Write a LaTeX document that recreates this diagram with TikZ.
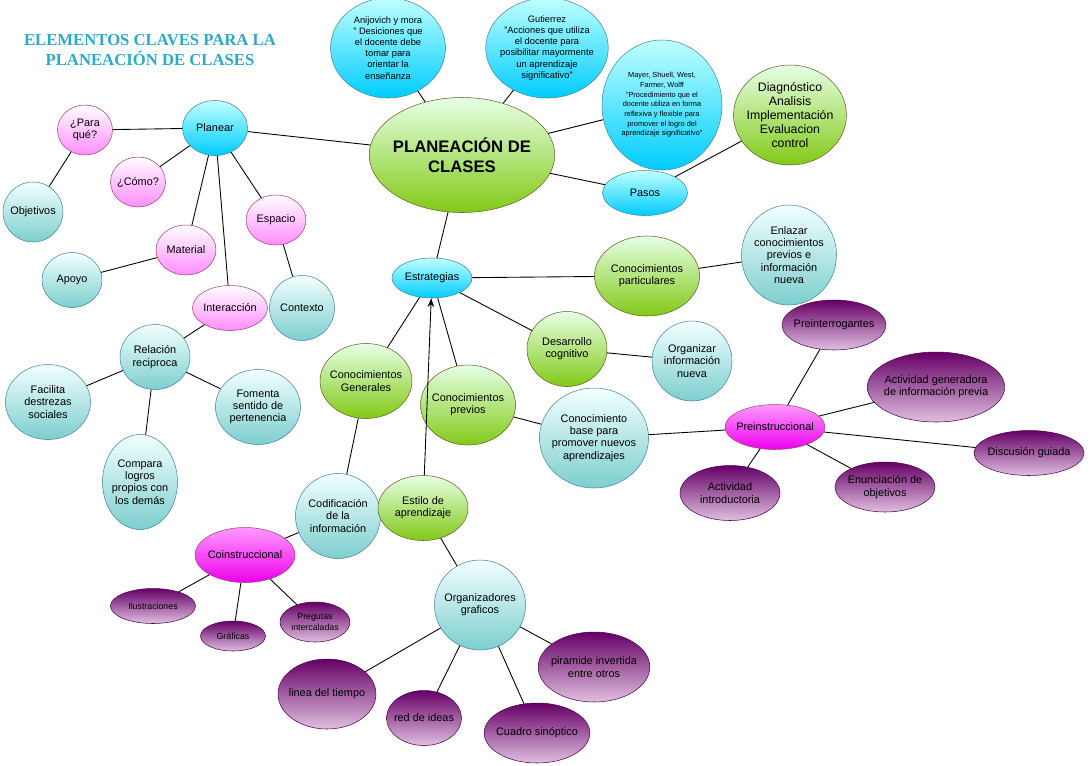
\documentclass[tikz,border=0pt]{standalone}
\usepackage{fontspec}
\setmainfont{Liberation Sans}
\usetikzlibrary{arrows.meta,shapes.geometric}

\definecolor{titleblue}{RGB}{40,170,200}
\tikzset{
  bubble/.style={ellipse,draw=#1!60!black,line width=0.3pt,align=center,inner sep=-2pt,
    font=\fontsize{6.2}{7}\selectfont},
  blue/.style={bubble=cyan,top color=cyan!25,bottom color=cyan!80!blue},
  green/.style={bubble=olive,top color=green!10!white,bottom color=olive!60!green!70},
  teal/.style={bubble=cyan,top color=cyan!5,bottom color=cyan!45!gray!70},
  pink/.style={bubble=magenta,top color=white,bottom color=magenta!45},
  mag/.style={bubble=magenta,top color=magenta!40,bottom color=magenta!85!violet},
  purple/.style={bubble=violet,top color=violet!80!black,bottom color=violet!25},
  link/.style={line width=0.5pt}
}

\begin{document}
\begin{tikzpicture}[x=0.02cm,y=-0.02cm]
    \useasboundingbox (0,0) rectangle (1091,765);
    \node[text=titleblue,font=\fontspec{Liberation Serif}\bfseries\fontsize{9.5}{11}\selectfont,align=center] (title) at (150,50) {ELEMENTOS CLAVES PARA LA\\PLANEACIÓN DE CLASES};

    % centro
    \node[green,minimum width=140*0.02cm,minimum height=115*0.02cm,font=\bfseries\fontsize{9.5}{11.5}\selectfont] (main) at (462,155) {PLANEACIÓN DE\\CLASES};
    \node[blue,minimum width=115*0.02cm,minimum height=100*0.02cm,font=\fontsize{5.3}{6.3}\selectfont] (anij) at (388,48) {Anijovich y mora\\" Desiciones que\\el docente debe\\tomar para\\orientar la\\enseñanza};
    \node[blue,minimum width=115*0.02cm,minimum height=100*0.02cm,font=\fontsize{5.3}{6.3}\selectfont] (gut) at (547,48) {Gutierrez\\"Acciones que utiliza\\el docente para\\posibilitar mayormente\\un aprendizaje\\significativo"};
    \node[blue,minimum width=120*0.02cm,minimum height=130*0.02cm,font=\fontsize{4.2}{5.5}\selectfont] (mayer) at (662,105) {Mayer, Shuell, West,\\Farmer, Wolff\\"Procedimiento que el\\docente utiliza en forma\\reflexiva y flexible para\\promover el logro del\\aprendizaje significativo"};
    \node[green,minimum width=105*0.02cm,minimum height=100*0.02cm,font=\fontsize{7}{8}\selectfont] (diag) at (790,115) {Diagnóstico\\Analisis\\Implementación\\Evaluacion\\control};
    \node[blue,minimum width=85*0.02cm,minimum height=45*0.02cm] (pasos) at (645,193) {Pasos};

    % planear
    \node[blue,minimum width=65*0.02cm,minimum height=55*0.02cm] (plan) at (215,128) {Planear};
    \node[pink,minimum width=55*0.02cm,minimum height=50*0.02cm] (para) at (85,130) {¿Para\\qué?};
    \node[pink,minimum width=55*0.02cm,minimum height=50*0.02cm] (como) at (138,182) {¿Cómo?};
    \node[teal,minimum width=60*0.02cm,minimum height=60*0.02cm] (obj) at (33,212) {Objetivos};
    \node[pink,minimum width=60*0.02cm,minimum height=50*0.02cm] (esp) at (276,220) {Espacio};
    \node[pink,minimum width=60*0.02cm,minimum height=50*0.02cm] (mat) at (186,250) {Material};
    \node[teal,minimum width=60*0.02cm,minimum height=55*0.02cm] (apoyo) at (72,280) {Apoyo};
    \node[pink,minimum width=75*0.02cm,minimum height=45*0.02cm] (inter) at (230,308) {Interacción};
    \node[teal,minimum width=65*0.02cm,minimum height=65*0.02cm] (cont) at (302,308) {Contexto};
    \node[teal,minimum width=70*0.02cm,minimum height=65*0.02cm] (rel) at (155,357) {Relación\\reciproca};
    \node[teal,minimum width=85*0.02cm,minimum height=75*0.02cm] (faci) at (48,402) {Facilita\\destrezas\\sociales};
    \node[teal,minimum width=85*0.02cm,minimum height=75*0.02cm] (fom) at (258,407) {Fomenta\\sentido de\\pertenencia};
    \node[teal,minimum width=75*0.02cm,minimum height=95*0.02cm] (comp) at (140,482) {Compara\\logros\\propios con\\los demás};

    % estrategias
    \node[blue,minimum width=80*0.02cm,minimum height=40*0.02cm] (estr) at (432,278) {Estrategias};
    \node[green,minimum width=105*0.02cm,minimum height=80*0.02cm] (part) at (647,276) {Conocimientos\\particulares};
    \node[teal,minimum width=95*0.02cm,minimum height=100*0.02cm] (enl) at (789,255) {Enlazar\\conocimientos\\previos e\\información\\nueva};
    \node[green,minimum width=80*0.02cm,minimum height=75*0.02cm] (des) at (567,349) {Desarrollo\\cognitivo};
    \node[teal,minimum width=80*0.02cm,minimum height=80*0.02cm] (org) at (692,361) {Organizar\\información\\nueva};
    \node[green,minimum width=80*0.02cm,minimum height=75*0.02cm] (gen) at (366,381) {Conocimientos\\Generales};
    \node[green,minimum width=95*0.02cm,minimum height=80*0.02cm] (prev) at (468,405) {Conocimientos\\previos};
    \node[teal,minimum width=100*0.02cm,minimum height=100*0.02cm] (base) at (594,438) {Conocimiento\\base para\\promover nuevos\\aprendizajes};
    \node[mag,minimum width=100*0.02cm,minimum height=45*0.02cm] (pre) at (775,427) {Preinstruccional};
    \node[purple,minimum width=100*0.02cm,minimum height=50*0.02cm] (preint) at (834,325) {Preinterrogantes};
    \node[purple,minimum width=120*0.02cm,minimum height=70*0.02cm] (act) at (936,387) {Actividad generadora\\de información previa};
    \node[purple,minimum width=110*0.02cm,minimum height=45*0.02cm] (disc) at (1029,453) {Discusión guiada};
    \node[purple,minimum width=100*0.02cm,minimum height=50*0.02cm] (enun) at (885,487) {Enunciación de\\objetivos};
    \node[purple,minimum width=100*0.02cm,minimum height=55*0.02cm] (intro) at (730,493) {Actividad\\introductoria};

    % codificacion
    \node[teal,minimum width=85*0.02cm,minimum height=85*0.02cm] (cod) at (338,516) {Codificación\\de la\\información};
    \node[green,minimum width=90*0.02cm,minimum height=65*0.02cm] (est) at (423,508) {Estilo de\\aprendizaje};
    \node[mag,minimum width=100*0.02cm,minimum height=55*0.02cm] (coin) at (245,555) {Coinstruccional};
    \node[purple,minimum width=85*0.02cm,minimum height=35*0.02cm,font=\fontsize{5}{6}\selectfont] (ilu) at (153,606) {Ilustraciones};
    \node[purple,minimum width=65*0.02cm,minimum height=30*0.02cm,font=\fontsize{5}{6}\selectfont] (graf) at (233,636) {Gráficas};
    \node[purple,minimum width=70*0.02cm,minimum height=40*0.02cm,font=\fontsize{5}{6}\selectfont] (preg) at (315,622) {Pregutas\\intercaladas};
    \node[teal,minimum width=90*0.02cm,minimum height=90*0.02cm] (orgg) at (480,605) {Organizadores\\graficos};
    \node[purple,minimum width=110*0.02cm,minimum height=70*0.02cm] (pir) at (594,667) {piramide invertida\\entre otros};
    \node[purple,minimum width=95*0.02cm,minimum height=70*0.02cm] (lin) at (327,694) {linea del tiempo};
    \node[purple,minimum width=75*0.02cm,minimum height=55*0.02cm] (red) at (424,718) {red de ideas};
    \node[purple,minimum width=100*0.02cm,minimum height=60*0.02cm] (cuad) at (537,733) {Cuadro sinóptico};

    \draw[link] (main) -- (anij);
    \draw[link] (main) -- (gut);
    \draw[link] (main) -- (mayer);
    \draw[link] (main) -- (pasos);
    \draw[link] (pasos) -- (diag);
    \draw[link] (main) -- (plan);
    \draw[link] (main) -- (estr);
    \draw[link] (plan) -- (para);
    \draw[link] (para) -- (obj);
    \draw[link] (plan) -- (como);
    \draw[link] (plan) -- (esp);
    \draw[link] (plan) -- (mat);
    \draw[link] (plan) -- (inter);
    \draw[link] (mat) -- (apoyo);
    \draw[link] (esp) -- (cont);
    \draw[link] (inter) -- (rel);
    \draw[link] (rel) -- (faci);
    \draw[link] (rel) -- (fom);
    \draw[link] (rel) -- (comp);
    \draw[link] (estr) -- (part);
    \draw[link] (part) -- (enl);
    \draw[link] (estr) -- (des);
    \draw[link] (des) -- (org);
    \draw[link] (estr) -- (gen);
    \draw[link] (estr) -- (prev);
    \draw[link] (prev) -- (base);
    \draw[link] (base) -- (pre);
    \draw[link] (pre) -- (preint);
    \draw[link] (pre) -- (act);
    \draw[link] (pre) -- (disc);
    \draw[link] (pre) -- (enun);
    \draw[link] (pre) -- (intro);
    \draw[link] (gen) -- (cod);
    \draw[link] (cod) -- (coin);
    \draw[link] (coin) -- (ilu);
    \draw[link] (coin) -- (graf);
    \draw[link] (coin) -- (preg);
    \draw[link,-{Stealth[length=5pt]}] (est) -- (estr);
    \draw[link] (est) -- (orgg);
    \draw[link] (orgg) -- (pir);
    \draw[link] (orgg) -- (lin);
    \draw[link] (orgg) -- (red);
    \draw[link] (orgg) -- (cuad);
\end{tikzpicture}
\end{document}
